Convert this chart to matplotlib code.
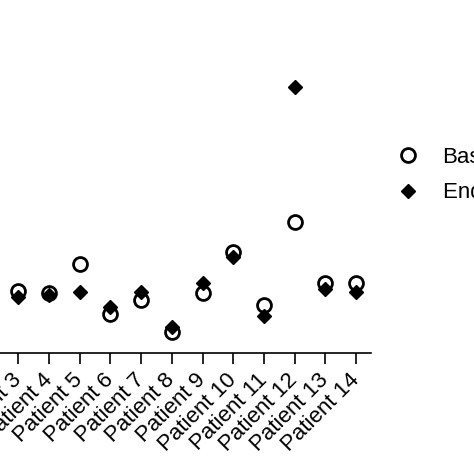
import matplotlib
matplotlib.use('Agg')
import matplotlib.pyplot as plt
import numpy as np

plt.rcParams['font.family'] = ['Liberation Sans', 'DejaVu Sans']

# patients visible in the crop (1 and 2 sit off the left edge)
patients = ['Patient 3', 'Patient 4', 'Patient 5', 'Patient 6', 'Patient 7', 'Patient 8',
            'Patient 9', 'Patient 10', 'Patient 11', 'Patient 12', 'Patient 13', 'Patient 14']
baseline = [6.2, 6.0, 8.9, 3.9, 5.3, 2.1, 6.0, 10.1, 4.8, 13.1, 7.0, 7.0]
end_vals = [5.6, 5.8, 6.1, 4.6, 6.1, 2.6, 7.0, 9.6, 3.7, 26.6, 6.4, 6.1]

fig = plt.figure(figsize=(4.74, 4.74), dpi=100)
# axes run past the left edge, like the cropped original
ax = fig.add_axes([-0.1234, 0.2553, 0.907, 0.696])

x = np.arange(3, 3 + len(patients))
ax.plot(x, baseline, 'o', ms=10, mfc='white', mec='black', mew=2, ls='none', label='Baseline')
ax.plot(x, end_vals, 'D', ms=7, color='black', ls='none', label='End of treatment')

ax.set_xlim(0.5, 14.5)
ax.set_ylim(0, 33)
ax.set_xticks(x)
ax.set_xticklabels(patients, rotation=45, ha='right', va='center', rotation_mode='anchor', fontsize=16)
ax.tick_params(axis='x', length=8, width=1.2, pad=9)
for s in ['top', 'right']:
    ax.spines[s].set_visible(False)
ax.spines['bottom'].set_linewidth(1.2)

fig.legend(loc='upper left', bbox_to_anchor=(0.772, 0.732), frameon=False, fontsize=16,
           handletextpad=0.55, labelspacing=0.65)

fig.savefig('out.png', dpi=100)
